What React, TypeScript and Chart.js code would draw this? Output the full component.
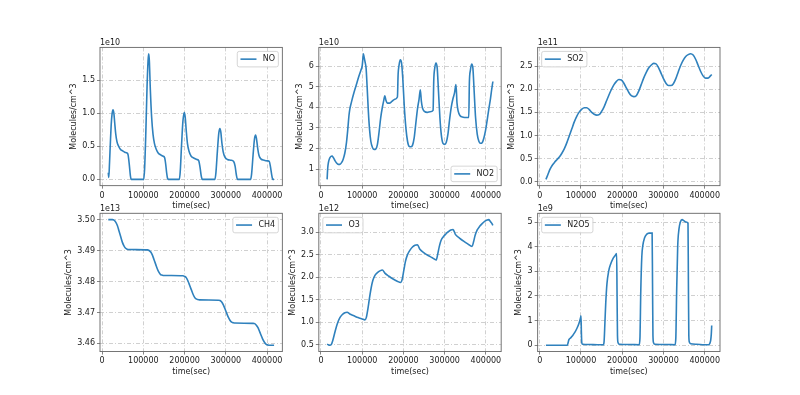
import React, { useEffect, useRef } from 'react';
import { Chart, registerables } from 'chart.js';

Chart.register(...registerables);

// ---------- shared ticks ----------
const xTickValues = [0, 100000, 200000, 300000, 400000];

// ---------- NO (units of 1e10 molecules/cm^3) ----------
const noTime = [15000, 16200, 18000, 20000, 22000, 24000, 26500, 28500, 30500, 33000, 36000, 40000, 45000, 50000, 55000, 60000, 63000, 66000, 68500, 70500,
  100800, 103000, 106000, 109000, 111500, 113000, 114500, 117000, 120000, 123500, 127000, 131000, 136000, 142000, 148000, 151500, 154000, 156500, 158500, 160500,
  187200, 189500, 192500, 196000, 199400, 201500, 204000, 207000, 211000, 216000, 223000, 230000, 234500, 237500, 240500, 243000,
  273600, 276000, 279500, 283000, 285800, 288000, 290500, 293500, 297500, 304000, 312000, 319000, 322500, 325500, 328500,
  360000, 362500, 366000, 369500, 372200, 374500, 377500, 380500, 385000, 393000, 401000, 405500, 408500, 411500, 414000, 417000];
const noValues = [0.10, 0.03, 0.25, 0.55, 0.82, 0.98, 1.05, 1.00, 0.86, 0.69, 0.57, 0.50, 0.45, 0.43, 0.41, 0.40, 0.37, 0.22, 0.06, 0.00,
  0.00, 0.15, 0.70, 1.40, 1.80, 1.90, 1.80, 1.35, 0.95, 0.68, 0.54, 0.46, 0.40, 0.37, 0.35, 0.33, 0.24, 0.10, 0.02, 0.00,
  0.00, 0.12, 0.50, 0.88, 1.01, 0.94, 0.74, 0.54, 0.42, 0.35, 0.32, 0.30, 0.28, 0.18, 0.05, 0.00,
  0.00, 0.10, 0.42, 0.70, 0.77, 0.71, 0.55, 0.42, 0.34, 0.30, 0.29, 0.27, 0.20, 0.07, 0.00,
  0.00, 0.08, 0.36, 0.61, 0.67, 0.61, 0.46, 0.36, 0.31, 0.29, 0.28, 0.27, 0.18, 0.06, 0.00, 0.00];
const noTicks = [0, 0.5, 1.0, 1.5];

// ---------- NO2 (units of 1e10) ----------
const no2Time = [15000, 16500, 18500, 21000, 24000, 27000, 30000, 34000, 38000, 42000, 46000, 50000, 54000, 58000, 62000, 65000, 68000, 70000, 74000, 80000, 86000, 92000, 97000, 100000, 101500, 103000, 104500, 107000, 109500, 112000, 115000, 118000, 121000, 125000, 129000, 133000, 137000, 141000, 145000, 149000, 152000, 155000, 157500, 161000, 166000, 172000, 178000, 185500,
  187200, 189500, 192500, 195500, 198500, 202000, 206000, 210000, 214000, 218000, 222000, 226000, 230000, 234000, 238000, 241000, 243500, 246500, 251000, 258000, 265000, 272000,
  273600, 276000, 279000, 282000, 285000, 288500, 292000, 296000, 300000, 304000, 308000, 312000, 316000, 320000, 324000, 327500, 330000, 333000, 337000, 345000, 353000, 358500,
  360000, 362500, 365500, 368500, 371500, 375000, 379000, 383000, 387000, 391000, 395000, 399000, 403000, 407000, 411000, 414000, 417000];
const no2Values = [0.50, 1.05, 1.35, 1.52, 1.61, 1.63, 1.56, 1.41, 1.29, 1.23, 1.23, 1.31, 1.48, 1.78, 2.30, 2.90, 3.60, 3.90, 4.25, 4.70, 5.10, 5.50, 5.80, 6.00, 6.30, 6.60, 6.45, 6.20, 5.90, 5.00, 3.80, 2.90, 2.35, 2.05, 1.95, 1.97, 2.20, 2.80, 3.50, 4.00, 4.30, 4.55, 4.35, 4.20, 4.20, 4.28, 4.38, 4.50,
  5.60, 6.05, 6.30, 6.15, 5.40, 4.10, 3.00, 2.35, 2.10, 2.08, 2.15, 2.50, 3.20, 3.90, 4.40, 4.85, 4.30, 3.95, 3.80, 3.75, 3.78, 3.85,
  5.30, 5.90, 6.15, 5.90, 4.80, 3.50, 2.65, 2.25, 2.20, 2.30, 2.70, 3.40, 4.00, 4.40, 4.70, 5.10, 4.20, 3.80, 3.60, 3.52, 3.50, 3.50,
  5.20, 5.80, 6.10, 5.90, 4.80, 3.50, 2.70, 2.35, 2.25, 2.28, 2.50, 2.85, 3.35, 3.90, 4.40, 4.85, 5.25];
const no2Ticks = [1, 2, 3, 4, 5, 6];

// ---------- SO2 (units of 1e11) ----------
const so2Time = [15000, 20000, 25000, 30000, 36000, 42000, 48000, 54000, 60000, 66000, 72000, 78000, 84000, 90000, 96000, 102000, 108000, 114000, 120000, 126000, 132000, 138000, 144000, 150000, 156000, 162000, 168000, 174000, 180000, 186000, 192000, 198000, 204000, 210000, 216000, 222000, 228000, 234000, 240000, 246000, 252000, 258000, 264000, 270000, 276000, 282000, 288000, 294000, 300000, 306000, 312000, 318000, 324000, 330000, 336000, 342000, 348000, 354000, 360000, 366000, 372000, 378000, 384000, 390000, 396000, 402000, 408000, 414000, 417000];
const so2Values = [0.05, 0.16, 0.27, 0.35, 0.42, 0.48, 0.54, 0.62, 0.72, 0.85, 1.00, 1.15, 1.30, 1.42, 1.51, 1.57, 1.60, 1.60, 1.56, 1.50, 1.46, 1.44, 1.45, 1.52, 1.62, 1.75, 1.88, 2.00, 2.10, 2.17, 2.21, 2.20, 2.13, 2.03, 1.93, 1.86, 1.84, 1.86, 1.96, 2.10, 2.24, 2.36, 2.46, 2.52, 2.56, 2.55, 2.47, 2.35, 2.23, 2.13, 2.08, 2.08, 2.12, 2.23, 2.38, 2.52, 2.63, 2.71, 2.75, 2.77, 2.74, 2.65, 2.52, 2.39, 2.29, 2.24, 2.24, 2.29, 2.32];
const so2Ticks = [0, 0.5, 1.0, 1.5, 2.0, 2.5];

// ---------- CH4 (units of 1e13) ----------
const ch4Time = [15000, 21000, 25000, 29000, 33000, 37000, 41000, 45000, 49000, 53000, 57000, 61000, 65000, 110000,
  114000, 118000, 122000, 126000, 130000, 134000, 138000, 142000, 146000, 150000, 196000,
  200000, 204000, 208000, 212000, 216000, 220000, 224000, 228000, 232000, 236000, 282000,
  286000, 290000, 294000, 298000, 302000, 306000, 310000, 314000, 318000, 322000, 366000,
  370000, 374000, 378000, 382000, 386000, 390000, 394000, 398000, 402000, 406000, 417000];
const ch4Values = [3.5001, 3.5001, 3.5001, 3.4999, 3.4993, 3.4982, 3.4964, 3.4946, 3.4928, 3.4916, 3.4908, 3.4905, 3.4904, 3.4903,
  3.4901, 3.4896, 3.4886, 3.4871, 3.4856, 3.4841, 3.4830, 3.4823, 3.4821, 3.4820, 3.4819,
  3.4817, 3.4813, 3.4803, 3.4789, 3.4775, 3.4761, 3.4750, 3.4744, 3.4742, 3.4741, 3.4740,
  3.4739, 3.4734, 3.4725, 3.4712, 3.4698, 3.4685, 3.4675, 3.4669, 3.4667, 3.4666, 3.4665,
  3.4664, 3.4659, 3.4651, 3.4638, 3.4625, 3.4612, 3.4603, 3.4597, 3.4595, 3.4594, 3.4594];
const ch4Ticks = [3.46, 3.47, 3.48, 3.49, 3.50];

// ---------- O3 (units of 1e12) ----------
const o3Time = [15000, 18000, 21500, 25000, 29000, 34000, 40000, 46000, 52000, 58000, 63500, 70000, 80000, 90000, 100000, 106500, 110000, 114000, 118000, 122000, 126000, 131000, 137000, 143000, 149000, 155000, 165000, 175000, 185000, 193000, 197000, 201000, 205000, 210000, 216000, 222000, 228000, 234000, 240000, 250000, 260000, 270000, 279500, 283000, 287000, 291000, 297000, 303000, 309000, 315000, 320500, 326000, 336000, 346000, 356000, 366500, 370000, 374000, 379000, 385000, 391000, 397000, 403000, 407000, 410000, 414000, 417000];
const o3Values = [0.51, 0.495, 0.485, 0.50, 0.60, 0.78, 0.97, 1.10, 1.17, 1.21, 1.22, 1.18, 1.14, 1.10, 1.07, 1.05, 1.10, 1.30, 1.55, 1.77, 1.93, 2.04, 2.10, 2.14, 2.16, 2.09, 2.02, 1.96, 1.91, 1.88, 1.95, 2.15, 2.35, 2.50, 2.60, 2.67, 2.71, 2.72, 2.62, 2.54, 2.48, 2.43, 2.38, 2.50, 2.68, 2.81, 2.90, 2.96, 3.01, 3.05, 3.06, 2.95, 2.87, 2.80, 2.74, 2.68, 2.78, 2.93, 3.05, 3.13, 3.19, 3.24, 3.27, 3.28, 3.25, 3.20, 3.15];
const o3Ticks = [0.5, 1.0, 1.5, 2.0, 2.5, 3.0];

// ---------- N2O5 (units of 1e9) ----------
const n2o5Time = [15000, 30000, 50000, 67000, 69000, 70500, 75000, 80000, 85000, 90000, 95000, 99000, 100000, 101000, 102000, 104000, 120000, 140000, 154000,
  156000, 158000, 160000, 163000, 167000, 172000, 177000, 182000, 186500, 187500, 188500, 190000, 193000, 220000, 241000,
  243000, 245000, 247500, 250000, 254000, 259000, 265000, 272500, 273500, 274500, 276000, 279000, 310000, 328000,
  330000, 332000, 334500, 337500, 341000, 345000, 350000, 355000, 359500, 360500, 361500, 363000, 366000, 380000, 400000, 410000, 412000, 414500, 416000, 417000];
const n2o5Values = [0.0, 0.0, 0.0, 0.0, 0.12, 0.22, 0.30, 0.40, 0.52, 0.68, 0.88, 1.12, 1.20, 0.50, 0.10, 0.04, 0.03, 0.02, 0.02,
  0.15, 0.90, 1.70, 2.50, 3.00, 3.30, 3.50, 3.62, 3.72, 2.00, 0.40, 0.10, 0.04, 0.03, 0.02,
  0.30, 2.20, 3.60, 4.05, 4.35, 4.50, 4.55, 4.55, 2.50, 0.40, 0.10, 0.04, 0.03, 0.02,
  0.30, 2.20, 4.00, 4.70, 5.00, 5.10, 5.05, 5.00, 4.95, 2.50, 0.40, 0.12, 0.06, 0.04, 0.02, 0.02, 0.06, 0.20, 0.45, 0.80];
const n2o5Ticks = [0, 1, 2, 3, 4, 5];

// ---------- styling ----------
const FONT = '"DejaVu Sans", sans-serif';
const FS = 8;
const TEXT_COLOR = '#1a1a1a';
const LINE_COLOR = '#2f81bd';
const LINE_W = 1.6;
const GRID_COLOR = '#c4c4c4';
const SPINE_COLOR = '#666666';

const FIG_L = 100, FIG_R = 720, FIG_T = 47.4, FIG_B = 351.55;
const SUB_W = (FIG_R - FIG_L) / 3.4;
const SUB_H = (FIG_B - FIG_T) / 2.2;
const CW = 280, CH = 220, Y_AXIS_W = 45, X_AXIS_H = 30;

type PanelCfg = {
  name: string; time: number[]; values: number[]; exponent: string;
  yTicks: number[]; decimals: number; legendPos: string; col: number; row: number;
};

const panels: PanelCfg[] = [
  { name: 'NO', time: noTime, values: noValues, exponent: '1e10', yTicks: noTicks, decimals: 1, legendPos: 'upper right', col: 0, row: 0 },
  { name: 'NO2', time: no2Time, values: no2Values, exponent: '1e10', yTicks: no2Ticks, decimals: 0, legendPos: 'lower right', col: 1, row: 0 },
  { name: 'SO2', time: so2Time, values: so2Values, exponent: '1e11', yTicks: so2Ticks, decimals: 1, legendPos: 'upper left', col: 2, row: 0 },
  { name: 'CH4', time: ch4Time, values: ch4Values, exponent: '1e13', yTicks: ch4Ticks, decimals: 2, legendPos: 'upper right', col: 0, row: 1 },
  { name: 'O3', time: o3Time, values: o3Values, exponent: '1e12', yTicks: o3Ticks, decimals: 1, legendPos: 'upper left', col: 1, row: 1 },
  { name: 'N2O5', time: n2o5Time, values: n2o5Values, exponent: '1e9', yTicks: n2o5Ticks, decimals: 0, legendPos: 'upper left', col: 2, row: 1 },
];

const decoPlugin = {
  id: 'deco',
  afterDraw(chart: any, _args: any, opts: any) {
    const { ctx, chartArea: a } = chart;
    ctx.save();
    ctx.setLineDash([]);
    ctx.strokeStyle = SPINE_COLOR;
    ctx.lineWidth = 0.9;
    ctx.strokeRect(a.left, a.top, a.right - a.left, a.bottom - a.top);

    ctx.font = `${FS}px ${FONT}`;
    ctx.fillStyle = TEXT_COLOR;
    ctx.textAlign = 'left';
    ctx.textBaseline = 'alphabetic';
    ctx.fillText(opts.exponent, a.left, a.top - 2.5);

    ctx.textAlign = 'center';
    ctx.textBaseline = 'middle';
    ctx.fillText('time(sec)', (a.left + a.right) / 2, a.bottom + 20);

    const labels: string[] = opts.yLabels;
    let maxW = 0;
    for (const l of labels) maxW = Math.max(maxW, ctx.measureText(l).width);
    ctx.save();
    ctx.translate(a.left - maxW - 13.4, (a.top + a.bottom) / 2);
    ctx.rotate(-Math.PI / 2);
    ctx.fillText('Molecules/cm^3', 0, 0);
    ctx.restore();

    const tw = ctx.measureText(opts.label).width;
    const bw = 3.2 + 16 + 6.4 + tw + 3.2;
    const bh = 15.5;
    const pos: string = opts.legendPos;
    const bx = pos.includes('right') ? a.right - 4 - bw : a.left + 4;
    const by = pos.includes('upper') ? a.top + 4 : a.bottom - 4 - bh;
    ctx.beginPath();
    ctx.roundRect(bx, by, bw, bh, 2);
    ctx.fillStyle = 'rgba(255,255,255,0.8)';
    ctx.fill();
    ctx.strokeStyle = '#cccccc';
    ctx.lineWidth = 0.8;
    ctx.stroke();
    const cy = by + bh / 2;
    ctx.beginPath();
    ctx.moveTo(bx + 3.2, cy);
    ctx.lineTo(bx + 19.2, cy);
    ctx.strokeStyle = LINE_COLOR;
    ctx.lineWidth = LINE_W;
    ctx.stroke();
    ctx.fillStyle = TEXT_COLOR;
    ctx.textAlign = 'left';
    ctx.textBaseline = 'middle';
    ctx.fillText(opts.label, bx + 25.6, cy);
    ctx.restore();
  },
};

function Panel({ cfg }: { cfg: PanelCfg }) {
  const ref = useRef<HTMLCanvasElement>(null);
  const L = FIG_L + cfg.col * SUB_W * 1.2;
  const T = FIG_T + cfg.row * SUB_H * 1.2;
  const canvasLeft = Math.floor(L) - 60;
  const canvasTop = Math.floor(T) - 25;

  useEffect(() => {
    const padLeft = L - canvasLeft - Y_AXIS_W;
    const padTop = T - canvasTop;
    const padRight = CW - (L - canvasLeft) - SUB_W;
    const padBottom = CH - (T - canvasTop) - SUB_H - X_AXIS_H;

    const tLo = Math.min(...cfg.time), tHi = Math.max(...cfg.time);
    const vLo = Math.min(...cfg.values), vHi = Math.max(...cfg.values);
    const xm = (tHi - tLo) * 0.05, ym = (vHi - vLo) * 0.05;
    const yLabels = cfg.yTicks.map((v) => v.toFixed(cfg.decimals));

    const tickFont = { family: FONT, size: FS };
    const chart = new Chart(ref.current as HTMLCanvasElement, {
      type: 'line',
      data: {
        datasets: [{
          label: cfg.name,
          data: cfg.time.map((t, i) => ({ x: t, y: cfg.values[i] })),
          borderColor: LINE_COLOR,
          borderWidth: LINE_W,
          pointRadius: 0,
          fill: false,
          cubicInterpolationMode: 'monotone',
        }],
      },
      options: {
        animation: false,
        responsive: false,
        devicePixelRatio: 1,
        events: [],
        layout: { padding: { left: padLeft, top: padTop, right: padRight, bottom: padBottom } },
        plugins: {
          legend: { display: false },
          tooltip: { enabled: false },
          deco: { exponent: cfg.exponent, label: cfg.name, legendPos: cfg.legendPos, yLabels },
        } as any,
        scales: {
          x: {
            type: 'linear',
            min: tLo - xm,
            max: tHi + xm,
            afterBuildTicks: (s: any) => { s.ticks = xTickValues.map((v) => ({ value: v })); },
            afterFit: (s: any) => { s.height = X_AXIS_H; },
            ticks: { autoSkip: false, maxRotation: 0, minRotation: 0, padding: 2, color: TEXT_COLOR, font: tickFont, callback: (v: any) => String(v) },
            grid: { color: GRID_COLOR, lineWidth: 0.8, tickLength: 3, tickColor: SPINE_COLOR, tickWidth: 0.8, tickBorderDash: [] },
            border: { display: false, dash: [4, 2, 1, 2] },
          },
          y: {
            type: 'linear',
            min: vLo - ym,
            max: vHi + ym,
            afterBuildTicks: (s: any) => { s.ticks = cfg.yTicks.map((v) => ({ value: v })); },
            afterFit: (s: any) => { s.width = Y_AXIS_W; },
            ticks: { autoSkip: false, padding: 2, color: TEXT_COLOR, font: tickFont, callback: (v: any) => Number(v).toFixed(cfg.decimals) },
            grid: { color: GRID_COLOR, lineWidth: 0.8, tickLength: 3, tickColor: SPINE_COLOR, tickWidth: 0.8, tickBorderDash: [] },
            border: { display: false, dash: [4, 2, 1, 2] },
          },
        },
      } as any,
      plugins: [decoPlugin as any],
    });
    return () => chart.destroy();
  }, []);

  return (
    <canvas
      ref={ref}
      width={CW}
      height={CH}
      style={{ position: 'absolute', left: canvasLeft, top: canvasTop, width: CW, height: CH }}
    />
  );
}

export default function App() {
  return (
    <div style={{ position: 'fixed', left: 0, top: 0, width: 800, height: 395, background: '#ffffff', overflow: 'hidden' }}>
      {panels.map((p) => <Panel key={p.name} cfg={p} />)}
    </div>
  );
}
